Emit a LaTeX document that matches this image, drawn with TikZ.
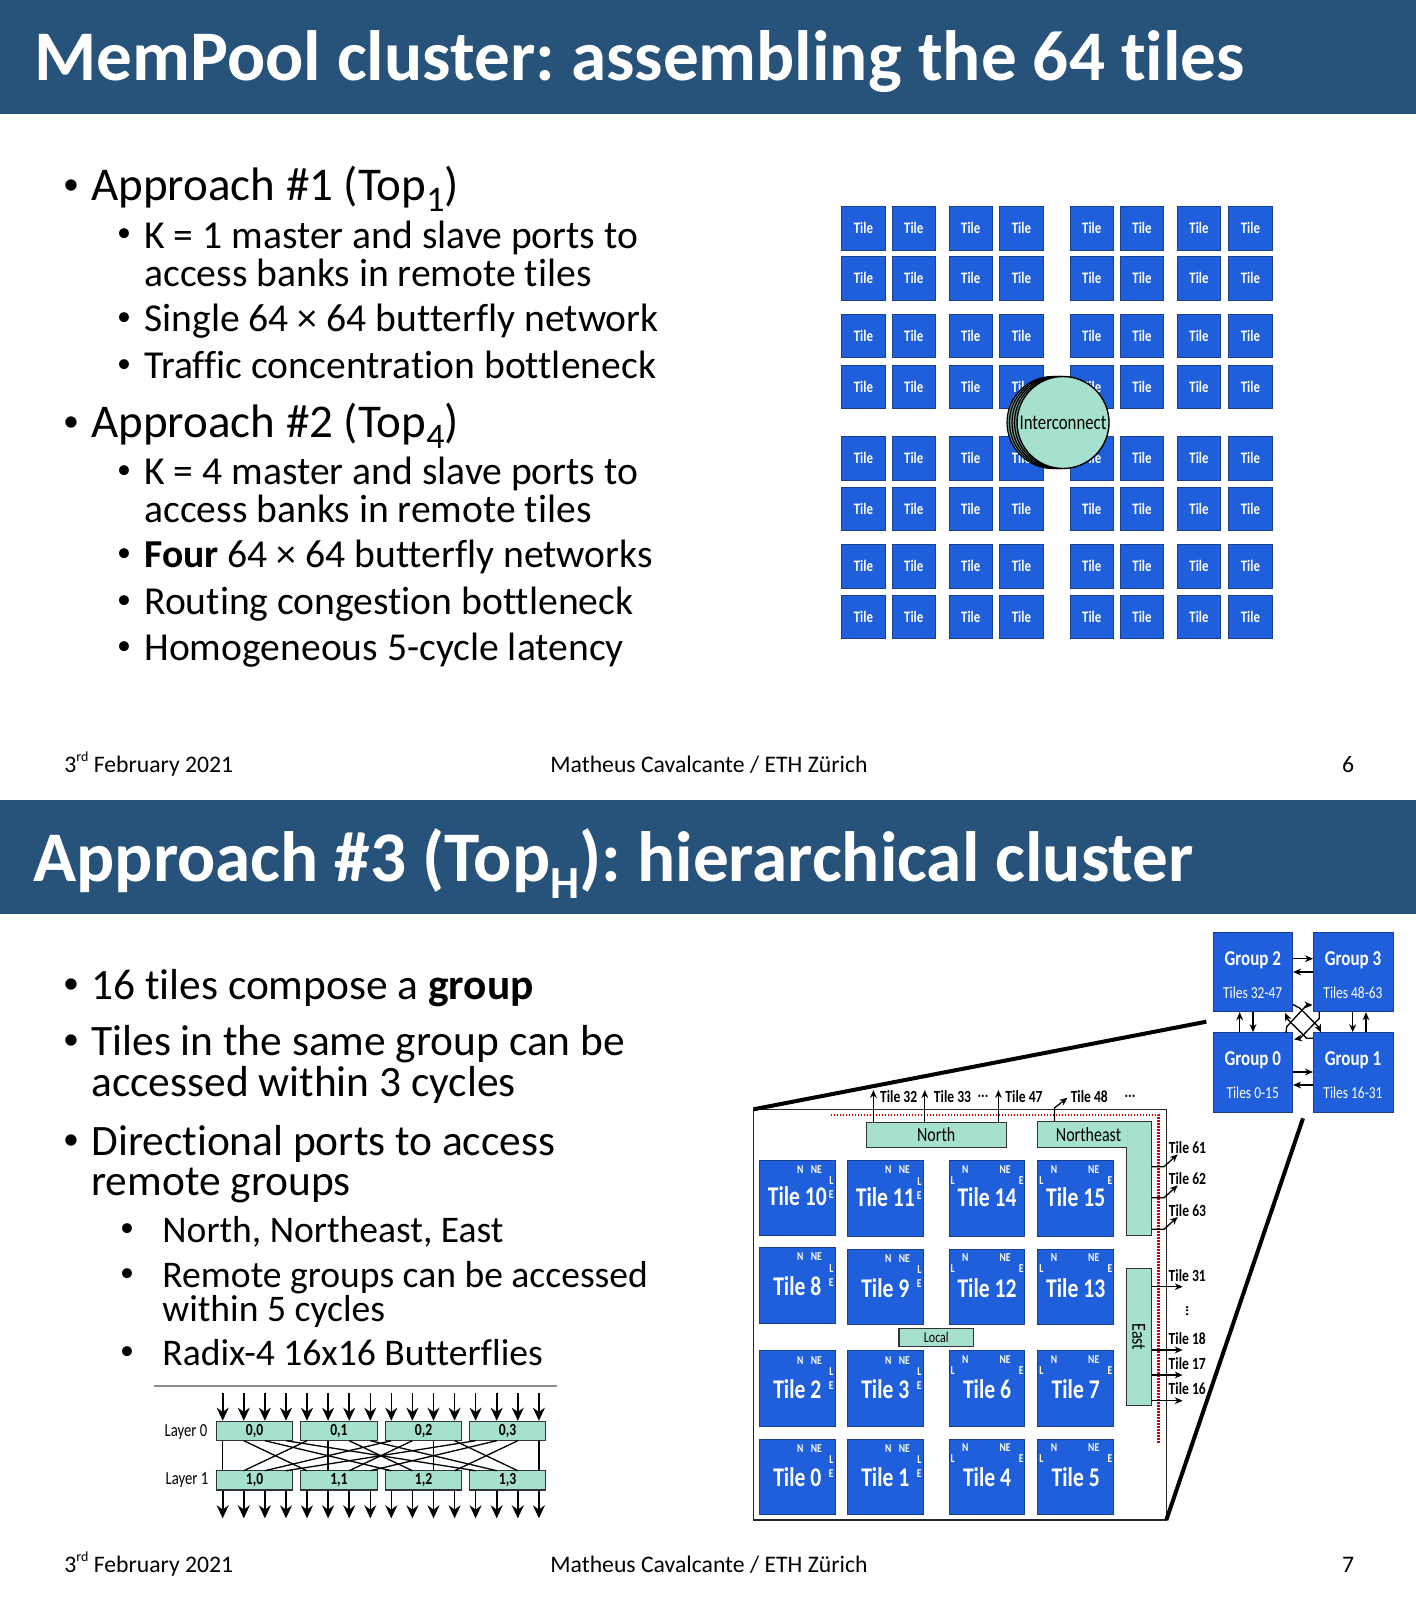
\documentclass[tikz,border=0pt]{standalone}
\usepackage{fontspec}
\setmainfont[Ligatures=NoCommon]{Carlito}
\newfontfamily\cond[FakeStretch=0.8,Ligatures=NoCommon]{Carlito}
\usetikzlibrary{arrows.meta,calc}
\definecolor{band}{HTML}{27527A}
\definecolor{tileblue}{HTML}{1F5FDC}
\definecolor{tileedge}{HTML}{1B3F8F}
\definecolor{aqua}{HTML}{A6E0CF}
\newcommand\fs[1]{\fontsize{#1}{#1}\selectfont}
\newcommand\sbx[2]{\raisebox{-.24em}{\fs{#1}#2}}
\frenchspacing
\tikzset{
  title/.style={anchor=base west,inner sep=0,text=white,font=\fs{35.6}\bfseries},
  lonea/.style={anchor=base west,inner sep=0,font=\fs{23.5}},
  lone/.style={anchor=base west,inner sep=0,font=\fs{21.7}},
  ltwoa/.style={anchor=base west,inner sep=0,font=\fs{19.8}},
  ltwo/.style={anchor=base west,inner sep=0,font=\fs{18.8}},
  bulone/.style={anchor=base,inner sep=0,font=\fs{16}},
  bultwo/.style={anchor=base,inner sep=0,font=\fs{14}},
  foot/.style={anchor=base,inner sep=0,font=\fs{11.85}},
  toptile/.style={draw=tileedge,line width=.4pt,fill=tileblue,text=white,minimum width=21.6pt,minimum height=21.6pt,inner sep=0,font=\cond\fs{8}\bfseries},
  dtile/.style={inner sep=0,text=white,font=\cond\fs{13.5}\bfseries},
  tbox/.style={draw=tileedge,line width=.4pt,fill=tileblue,minimum width=37.8pt,minimum height=37.8pt,inner sep=0},
  port/.style={inner sep=0,text=white,font=\cond\fs{6}\bfseries},
  grp/.style={draw=tileedge,line width=.4pt,fill=tileblue,minimum width=39.8pt,minimum height=39.8pt,inner sep=0},
  grpt/.style={inner sep=0,text=white,font=\cond\fs{10.6}\bfseries},
  grps/.style={inner sep=0,text=white,font=\cond\fs{8.4}},
  teal/.style={draw=black!80,line width=.6pt,fill=aqua,inner sep=0,font=\cond\fs{10}},
  tlab/.style={inner sep=0,font=\cond\fs{8.5}\bfseries},
  arr/.style={line width=.65pt,-{Stealth[length=4pt,width=3.4pt]}},
  farr/.style={line width=.8pt,-{Stealth[length=6.5pt,width=6pt]}},
  wire/.style={line width=.65pt},
  thick line/.style={line width=2pt,black}
}
\def\tileDY{0}
\newcommand\leftTile[4]{%
  \node[tbox] (#1) at (#2+37.8,#3+37.8) {};
  \node[dtile] (#1t) at (#2+38,#3+38+\tileDY) {#4};
  \node[port] (#1n) at (#2+41,#3+9.5) {N};
  \node[port] (#1ne) at (#2+57,#3+9.5) {NE};
  \node[port] (#1l) at (#2+72,#3+21) {L};
  \node[port] (#1e) at (#2+72,#3+35) {E};
}
\newcommand\rightTile[4]{%
  \node[tbox] (#1) at (#2+37.8,#3+37.8) {};
  \node[dtile] (#1t) at (#2+38,#3+38+\tileDY) {#4};
  \node[port] (#1n) at (#2+16.3,#3+9) {N};
  \node[port] (#1ne) at (#2+56,#3+9) {NE};
  \node[port] (#1l) at (#2+3.7,#3+20) {L};
  \node[port] (#1e) at (#2+72.3,#3+20) {E};
}
\begin{document}
\begin{tikzpicture}[x=0.5pt,y=-0.5pt]
\useasboundingbox (0,0) rectangle (1416,1600);
\fill[white] (0,0) rectangle (1416,1600);
% bands
\fill[band] (0,0) rectangle (1416,114);
\fill[band] (0,800) rectangle (1416,914);
\node[title] (title1) at (34,81) {MemPool cluster: assembling the 64 tiles};
\node[title] (title2) at (33,881) {Approach \#3 (Top\sbx{23}{H}): hierarchical cluster};
% slide 1 text
\node[bulone] (b1) at (71,194) {•};
\node[lonea] (s1) at (91,200.5) {Approach \#1 (Top\sbx{18}{1})};
\node[bultwo] (b2) at (124,241.5) {•};
\node[ltwoa] (s2) at (144,248) {K = 1 master and slave ports to};
\node[ltwoa] (s3) at (144,286) {access banks in remote tiles};
\node[bultwo] (b3) at (124,325) {•};
\node[ltwoa] (s4) at (144,331.5) {Single 64 × 64 butterfly network};
\node[bultwo] (b4) at (124,372) {•};
\node[ltwoa] (s5) at (144,378.2) {Traffic concentration bottleneck};
\node[bulone] (b5) at (71,431) {•};
\node[lonea] (s6) at (91,437.2) {Approach \#2 (Top\sbx{18}{4})};
\node[bultwo] (b6) at (124,478) {•};
\node[ltwoa] (s7) at (144,484.7) {K = 4 master and slave ports to};
\node[ltwoa] (s8) at (144,522.7) {access banks in remote tiles};
\node[bultwo] (b7) at (124,561) {•};
\node[ltwoa] (s9) at (144,567.5) {\textbf{Four} 64 × 64 butterfly networks};
\node[bultwo] (b8) at (124,608) {•};
\node[ltwoa] (s10) at (144,614.5) {Routing congestion bottleneck};
\node[bultwo] (b9) at (124,654) {•};
\node[ltwoa] (s11) at (144,660.5) {Homogeneous 5-cycle latency};
% footers
\node[foot,anchor=base west] (f1) at (64,772) {3\raisebox{.45em}{\fs{7}rd} February 2021};
\node[foot] (f2) at (709,772) {Matheus Cavalcante / ETH Zürich};
\node[foot] (f3) at (1348,772) {6};
\node[foot,anchor=base west] (f4) at (64,1572) {3\raisebox{.45em}{\fs{7}rd} February 2021};
\node[foot] (f5) at (709,1572) {Matheus Cavalcante / ETH Zürich};
\node[foot] (f6) at (1348,1572) {7};
% top tile grid
\foreach \x [count=\c] in {841.7,892,949,999.7,1070,1120.3,1177.3,1228.7}
  \foreach \y [count=\r] in {206.7,256.7,314,365,436.7,487,544.7,595.3}
    \node[toptile] (T\c-\r) at (\x+21.7,\y+21.7) {Tile};
% interconnect
\foreach \d/\n in {10/a,7.5/b,5/c,2.5/d}
  \node[circle,draw=black,line width=.6pt,fill=aqua!70!black,minimum size=46pt,inner sep=0] (ic\n) at (1063-\d,422.5) {};
\node[circle,draw=black,line width=.7pt,fill=aqua,minimum size=46pt,inner sep=0] (ic) at (1063,422.5) {};
\node[inner sep=0,font=\cond\fs{10.5}] (ict) at (ic) {Interconnect};
% slide 2 text
\node[bulone] (c1) at (71,993) {•};
\node[lone] (u1) at (91,999) {16 tiles compose a \textbf{group}};
\node[bulone] (c2) at (71,1049) {•};
\node[lone] (u2) at (91,1055) {Tiles in the same group can be};
\node[lone] (u3) at (91,1096.5) {accessed within 3 cycles};
\node[bulone] (c3) at (71,1149) {•};
\node[lone] (u4) at (91,1155) {Directional ports to access};
\node[lone] (u5) at (91,1195) {remote groups};
\node[bultwo] (c4) at (127,1236) {•};
\node[ltwo] (u6) at (162,1242) {North, Northeast, East};
\node[bultwo] (c5) at (127,1281) {•};
\node[ltwo] (u7) at (162,1287) {Remote groups can be accessed};
\node[ltwo] (u8) at (162,1321.4) {within 5 cycles};
\node[bultwo] (c6) at (127,1359) {•};
\node[ltwo] (u9) at (162,1365.5) {Radix-4 16x16 Butterflies};
% butterfly
\coordinate (gl) at (154,1386); \coordinate (gr) at (557.3,1386);
\draw[black!45,line width=.8pt] (gl) -- (gr);
\foreach \j/\xl in {0/216.3,1/300.7,2/385.3,3/469.3} {
  \node[teal,minimum width=38.2pt,minimum height=9.7pt,font=\cond\fs{8.5}\bfseries] (bu0\j) at (\xl+38.2,1431) {0,\j};
  \node[teal,minimum width=38.2pt,minimum height=9.7pt,font=\cond\fs{8.5}\bfseries] (bu1\j) at (\xl+38.2,1480.2) {1,\j};
}
\foreach \j in {0,1,2,3} \foreach \i in {0,1,2,3} {
  \pgfmathsetmacro\bx{222.7+\j*84.3+\i*21.1}
  \coordinate (ia\j\i) at (\bx,1392.7);
  \coordinate (oa\j\i) at (\bx,1518.3);
  \coordinate (bt\j\i) at (\bx,1440.7);
  \coordinate (bb\j\i) at (\bx,1470.7);
  \draw[farr] (ia\j\i) -- (ia\j\i |- bu0\j.north);
  \draw[farr] (oa\j\i |- bu1\j.south) -- (oa\j\i);
}
\foreach \j in {0,1,2,3} \foreach \i in {0,1,2,3}
  \draw[wire] (bt\j\i) -- (bb\i\j);
\node[inner sep=0,font=\cond\fs{9.2}] (lay0) at (186,1431.5) {Layer 0};
\node[inner sep=0,font=\cond\fs{9.2}] (lay1) at (187,1480.5) {Layer 1};
% outer box
\draw[black!85,line width=.8pt] (753.5,1109.3) rectangle (1166.3,1520);
\coordinate (boxtl) at (753.5,1109.3);
\coordinate (boxbr) at (1166.3,1520);
% red
\draw[red!85!black,line width=1.4pt,dash pattern=on .9pt off .6pt] (830.5,1115) -- (1158.3,1115) -- (1158.3,1443);
% detailed tiles
\def\tileDY{-1.5}
\leftTile{d10}{759.3}{1160}{Tile 10}
\leftTile{d11}{847.3}{1160.5}{Tile 11}
\rightTile{d14}{949}{1160.5}{Tile 14}
\rightTile{d15}{1037.7}{1160.5}{Tile 15}
\def\tileDY{1}
\leftTile{d8}{759.3}{1247.5}{Tile 8}
\leftTile{d9}{847.3}{1249}{Tile 9}
\rightTile{d12}{949}{1249}{Tile 12}
\rightTile{d13}{1037.7}{1249}{Tile 13}
\def\tileDY{0}
\leftTile{d2}{759.3}{1350.7}{Tile 2}
\leftTile{d3}{847.3}{1350.7}{Tile 3}
\rightTile{d6}{949}{1350.7}{Tile 6}
\rightTile{d7}{1037.7}{1350.7}{Tile 7}
\leftTile{d0}{759.3}{1439}{Tile 0}
\leftTile{d1}{847.3}{1439}{Tile 1}
\rightTile{d4}{949}{1439}{Tile 4}
\rightTile{d5}{1037.7}{1439}{Tile 5}
% routers
\node[teal,minimum width=70pt,minimum height=12.6pt] (north) at (936.2,1134.7) {North};
\draw[black!80,line width=.6pt,fill=aqua] (1037.6,1121.3) -- (1151.6,1121.3) -- (1151.6,1235.3) -- (1126.4,1235.3) -- (1126.4,1147.3) -- (1037.6,1147.3) -- cycle;
\node[inner sep=0,font=\cond\fs{10}] (northeast) at (1088.5,1134.5) {Northeast};
\node[teal,minimum width=37.3pt,minimum height=9.2pt,font=\cond\fs{7.5}] (local) at (936.3,1337.5) {Local};
\node[teal,minimum width=12.5pt,minimum height=68.8pt] (east) at (1138.8,1337) {};
\node[inner sep=0,rotate=-90,font=\cond\fs{10}] (eastt) at (1138.8,1337) {East};
% north outputs
\foreach \n/\x in {a/873.4,b/924.8,c/998.4} {
  \coordinate (up\n) at (\x,1090);
  \draw[arr] (north.north -| up\n) -- (up\n);
}
\node[tlab] (t32) at (898.7,1096.7) {Tile 32};
\node[tlab] (t33) at (952.5,1096.7) {Tile 33};
\node[tlab] (dots1) at (983,1096) {...};
\node[tlab] (t47) at (1024,1096.7) {Tile 47};
\node[tlab] (t48) at (1089.3,1096.7) {Tile 48};
\node[tlab] (dots2) at (1130,1096) {...};
\coordinate (ne1) at (1054.4,1121.3); \coordinate (ne2) at (1054.4,1108); \coordinate (ne3) at (1067.4,1097.7);
\draw[arr] (ne1) -- (ne2) -- (ne3);
% northeast right outputs
\foreach \n/\y in {a/1166.7,b/1197.7,c/1229.3} {
  \coordinate (r\n0) at (1151.6,\y);
  \coordinate (r\n1) at (1164,\y);
  \coordinate (r\n2) at (1177.7,\y-12.4);
  \draw[arr] (r\n0) -- (r\n1) -- (r\n2);
}
\node[tlab,anchor=west] (t61) at (1168.5,1147.3) {Tile 61};
\node[tlab,anchor=west] (t62) at (1168.5,1178.3) {Tile 62};
\node[tlab,anchor=west] (t63) at (1168.5,1210.7) {Tile 63};
% east outputs
\foreach \n/\y in {a/1286.7,b/1350,c/1375,d/1400.7} {
  \coordinate (eo\n) at (1182.7,\y);
  \draw[arr] (east.east |- eo\n) -- (eo\n);
}
\node[tlab,anchor=west] (t31) at (1168.3,1276) {Tile 31};
\node[inner sep=0,rotate=90,font=\cond\fs{8.5}\bfseries] (dots3) at (1187.3,1311) {...};
\node[tlab,anchor=west] (t18) at (1168.3,1338.3) {Tile 18};
\node[tlab,anchor=west] (t17) at (1168.3,1363.7) {Tile 17};
\node[tlab,anchor=west] (t16) at (1168.3,1389) {Tile 16};
% groups
\node[grp] (g2) at (1252.9,972) {};
\node[grp] (g3) at (1353.2,972) {};
\node[grp] (g0) at (1252.9,1072.4) {};
\node[grp] (g1) at (1353.2,1072.4) {};
\node[grpt] (g2t) at (1252.7,960) {Group 2};
\node[grps] (g2s) at (1252.7,992.3) {Tiles 32-47};
\node[grpt] (g3t) at (1353,960) {Group 3};
\node[grps] (g3s) at (1353,992.3) {Tiles 48-63};
\node[grpt] (g0t) at (1252.7,1060) {Group 0};
\node[grps] (g0s) at (1252.7,1092.3) {Tiles 0-15};
\node[grpt] (g1t) at (1353,1060) {Group 1};
\node[grps] (g1s) at (1353,1092.3) {Tiles 16-31};
\coordinate (ya) at (0,958.7); \coordinate (yb) at (0,972);
\coordinate (yc) at (0,1072); \coordinate (yd) at (0,1085);
\coordinate (xa) at (1239.7,0); \coordinate (xb) at (1253,0);
\coordinate (xc) at (1352.7,0); \coordinate (xd) at (1366,0);
\draw[arr] (g2.east |- ya) -- (g3.west |- ya);
\draw[arr] (g3.west |- yb) -- (g2.east |- yb);
\draw[arr] (g0.east |- yc) -- (g1.west |- yc);
\draw[arr] (g1.west |- yd) -- (g0.east |- yd);
\draw[arr] (g0.north -| xa) -- (g2.south -| xa);
\draw[arr] (g2.south -| xb) -- (g0.north -| xb);
\draw[arr] (g3.south -| xc) -- (g1.north -| xc);
\draw[arr] (g1.north -| xd) -- (g3.south -| xd);
% diagonals
\coordinate (A0) at (1286,1032.7); \coordinate (A1) at (1286.7,1026.7); \coordinate (A2) at (1306.7,1005); \coordinate (A3) at (1312.5,1005);
\coordinate (B0) at (1292.7,1004.3); \coordinate (B1) at (1300,1008.3); \coordinate (B2) at (1318.3,1026.7); \coordinate (B3) at (1321,1032.5);
\coordinate (C0) at (1319.3,1011.7); \coordinate (C1) at (1319.3,1018.3); \coordinate (C2) at (1300,1038.3); \coordinate (C3) at (1294,1039.3);
\coordinate (D0) at (1313.3,1038.3); \coordinate (D1) at (1306.7,1038.3); \coordinate (D2) at (1288.3,1020); \coordinate (D3) at (1285,1013);
\draw[arr] (A0) -- (A1) -- (A2) -- (A3);
\draw[arr] (B0) -- (B1) -- (B2) -- (B3);
\draw[arr] (C0) -- (C1) -- (C2) -- (C3);
\draw[arr] (D0) -- (D1) -- (D2) -- (D3);
% zoom lines
\coordinate (z1) at (1206.3,1021.7);
\coordinate (z2) at (1303,1118.3);
\draw[thick line] (boxtl) -- (z1);
\draw[thick line] (boxbr) -- (z2);
\end{tikzpicture}
\end{document}
